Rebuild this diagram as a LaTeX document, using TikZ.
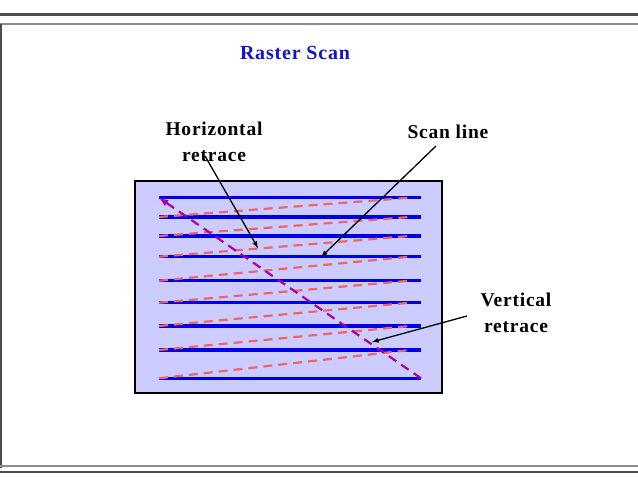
\documentclass[tikz,border=0pt]{standalone}
\usepackage{fontspec}
\setmainfont{Liberation Serif}[LetterSpace=4]
\begin{document}
\begin{tikzpicture}[x=1pt,y=-1pt,
  scan/.style={draw={rgb,255:red,0;green,0;blue,230},line width=3.2pt},
  hret/.style={draw={rgb,255:red,240;green,100;blue,100},line width=2.2pt,dash pattern=on 9pt off 6pt},
  vret/.style={draw={rgb,255:red,170;green,0;blue,170},line width=2.2pt,dash pattern=on 9pt off 6pt},
  lbl/.style={font=\bfseries\fontsize{19.5}{26}\selectfont,align=center},
  ptr/.style={-latex,line width=1.3pt}]
\useasboundingbox (0,0) rectangle (638,478);
\draw[line width=3pt,black!70] (0,15) -- (638,15);
\draw[line width=1.5pt,black!45] (0,24) -- (638,24);
\draw[line width=1.5pt,black!70] (1,24) -- (1,468);
\draw[line width=1.5pt,black!45] (0,466) -- (638,466);
\draw[line width=2.5pt,black!70] (0,472) -- (638,472);
\node[font=\bfseries\fontsize{20}{24}\selectfont,text={rgb,255:red,20;green,20;blue,200}] (title) at (295,53) {Raster Scan};
\node[draw=black,line width=2.2pt,fill={rgb,255:red,204;green,204;blue,255},minimum width=307pt,minimum height=212pt,anchor=north west,inner sep=0pt] (screen) at (134,180) {};
\foreach \i/\y in {1/197.7,2/217,3/236,4/256.7,5/280.7,6/302.7,7/326,8/350,9/378.3}{
  \coordinate (L\i) at (159,\y); \coordinate (R\i) at (421,\y); \coordinate (D\i) at (410,\y);
  \draw[scan] (L\i) -- (R\i);}
\foreach \a/\b in {2/1,3/2,4/3,5/4,6/5,7/6,8/7,9/8}{\draw[hret] (L\a) -- (D\b);}
\draw[vret,-latex] (R9) -- (L1);
\node[lbl] (hr) at (214,142) {Horizontal\\retrace};
\node[lbl] (sl) at (448,132) {Scan line};
\node[lbl] (vr) at (516,313) {Vertical\\retrace};
\coordinate (hrs) at (205,156);
\coordinate (hrt) at (258,248);
\coordinate (sls) at (436,146);
\coordinate (slt) at (321,257);
\coordinate (vrs) at (467,316);
\coordinate (vrt) at (372,342);
\draw[ptr] (hrs) -- (hrt);
\draw[ptr] (sls) -- (slt);
\draw[ptr] (vrs) -- (vrt);
\end{tikzpicture}
\end{document}
